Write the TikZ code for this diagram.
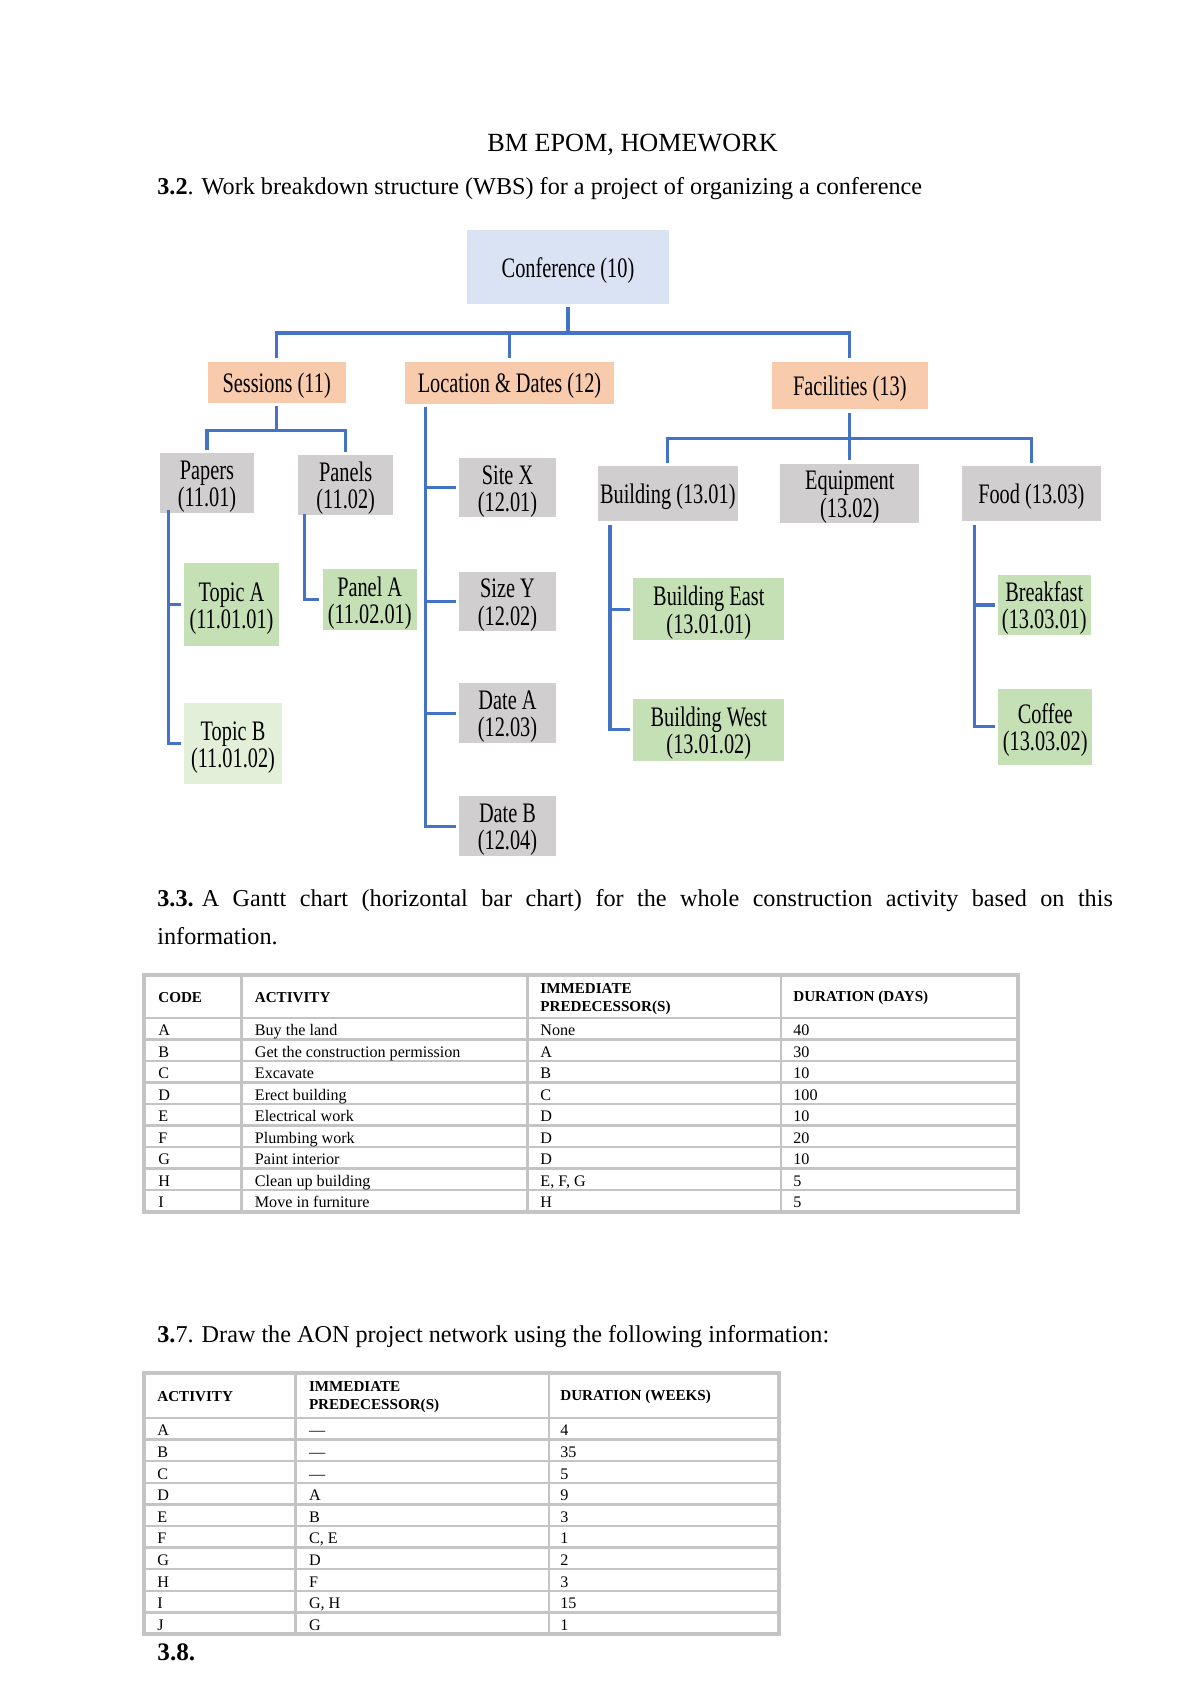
\documentclass[tikz,border=0pt]{standalone}
\usepackage{fontspec}
\setmainfont{Liberation Serif}
\newfontfamily\boxfont[FakeStretch=0.72]{Liberation Serif}
\usetikzlibrary{positioning}
\definecolor{WBSBlue}{HTML}{4472C4}
\definecolor{WBSTop}{HTML}{DAE3F3}
\definecolor{WBSOrange}{HTML}{F8CBAD}
\definecolor{WBSGray}{HTML}{D0CECE}
\definecolor{WBSGreen}{HTML}{C5E0B4}
\definecolor{WBSPale}{HTML}{E2F0D9}
\definecolor{TabRule}{HTML}{C4C4C4}
\newcommand\pxu{0.4961pt}
\newcommand\wbsstrut{\rule{0pt}{13pt}}

\begin{document}
\begin{tikzpicture}[
    x=0.4961pt,y=-0.4961pt,font=\fontsize{12}{14.4}\selectfont,
    wbs/.style={font=\boxfont\fontsize{14}{13.5}\selectfont,align=center,inner sep=0pt},
    sz/.style 2 args={minimum width=#1*\pxu,minimum height=#2*\pxu},
    wbsroot/.style={wbs,fill=WBSTop},
    wbsphase/.style={wbs,fill=WBSOrange},
    wbsgroup/.style={wbs,fill=WBSGray},
    wbstask/.style={wbs,fill=WBSGreen},
    wbspale/.style={wbs,fill=WBSPale},
    link/.style={draw=WBSBlue,line width=1.5pt},
    tip/.style={link,shorten >=1.5pt},
    para/.style={anchor=west,inner sep=0pt},
    cell/.style={anchor=west,inner sep=0pt,text height=5.5pt,text depth=1.5pt,
      font=\fontsize{8}{9}\selectfont},
    headcell/.style={anchor=west,inner sep=0pt,align=left,
      font=\bfseries\fontsize{7.5}{8.6}\selectfont},
    tabrule/.style={draw=TabRule,line width=1.2pt},
    tabframe/.style={draw=TabRule,line width=2pt}
  ]
    \fill[white] (0,0) rectangle (1200,1698);

    % headings
    \node[anchor=center,inner sep=0pt,font=\fontsize{13}{15}\selectfont] (title) at (632.5,145) {BM EPOM, HOMEWORK};
    \node[para] (s32) at (157,189) {\textbf{3.2}. Work breakdown structure (WBS) for a project of organizing a conference};

    % WBS boxes
    \node[wbsroot,sz={202}{74}] (conf) at (568,267) {\wbsstrut Conference (10)};
    \node[wbsphase,sz={138}{41}] (sess) at (276.7,382) {\wbsstrut Sessions (11)};
    \node[wbsphase,sz={209}{42}] (loc) at (509.5,382.5) {\wbsstrut Location \& Dates (12)};
    \node[wbsphase,sz={156.5}{47.6}] (fac) at (849.8,385.5) {\wbsstrut Facilities (13)};
    \node[wbsgroup,sz={94}{48}] (papers) at (207,483) {\wbsstrut Papers\\(11.01)};
    \node[wbsgroup,sz={95}{52}] (panels) at (345.7,485) {\wbsstrut Panels\\(11.02)};
    \node[wbsgroup,sz={97}{55}] (sitex) at (507.5,487.7) {\wbsstrut Site X\\(12.01)};
    \node[wbsgroup,sz={97}{55}] (sizey) at (507.5,601.3) {\wbsstrut Size Y\\(12.02)};
    \node[wbsgroup,sz={97}{55}] (datea) at (507.5,713.2) {\wbsstrut Date A\\(12.03)};
    \node[wbsgroup,sz={97}{54}] (dateb) at (507.5,826.2) {\wbsstrut Date B\\(12.04)};
    \node[wbstask,sz={94.4}{82.7}] (topa) at (231.5,604.7) {\wbsstrut Topic A\\(11.01.01)};
    \node[wbspale,sz={97.4}{81}] (topb) at (233,743.5) {\wbsstrut Topic B\\(11.01.02)};
    \node[wbstask,sz={94}{61}] (panela) at (369.7,599.8) {\wbsstrut Panel A\\(11.02.01)};
    \node[wbsgroup,sz={140}{55}] (bldg) at (667.8,493.5) {\wbsstrut Building (13.01)};
    \node[wbsgroup,sz={139}{55}] (equip) at (849.8,493.5) {\wbsstrut Equipment\\(13.02)};
    \node[wbsgroup,sz={139.5}{55}] (food) at (1031.3,493.5) {\wbsstrut Food (13.03)};
    \node[wbstask,sz={151}{62}] (beast) at (708.8,609.3) {\wbsstrut Building East\\(13.01.01)};
    \node[wbstask,sz={151}{62}] (bwest) at (708.8,729.7) {\wbsstrut Building West\\(13.01.02)};
    \node[wbstask,sz={92.7}{53.4}] (brkf) at (1044.3,605) {\wbsstrut Breakfast\\(13.03.01)};
    \node[wbstask,sz={94.4}{76.3}] (coffee) at (1045.2,726.8) {\wbsstrut Coffee\\(13.03.02)};

    % WBS connectors
    \coordinate (cbus) at (568,333);
    \coordinate (sbus) at (276.7,430.7);
    \coordinate (fbus) at (849.8,438.3);
    \coordinate (lspine) at (425.3,406.7);
    \coordinate (pspine) at (168.3,510);
    \coordinate (nspine) at (304.7,514);
    \coordinate (bspine) at (610,525);
    \coordinate (dspine) at (974.6,525);
    \draw[link,shorten <=1.5pt] (conf) -- (cbus);
    \foreach \n in {sess,loc,fac} \draw[tip] (cbus) -| (\n.north);
    \draw[link,shorten <=1.5pt] (sess) -- (sbus);
    \foreach \n in {papers,panels} \draw[tip] (sbus) -| (\n.north);
    \draw[link,shorten <=1.5pt] (fac) -- (fbus);
    \foreach \n in {bldg,equip,food} \draw[tip] (fbus) -| (\n.north);
    \foreach \n in {sitex,sizey,datea,dateb} \draw[tip] (lspine) |- (\n.west);
    \foreach \n in {topa,topb} \draw[tip] (pspine) |- (\n.west);
    \draw[tip] (nspine) |- (panela.west);
    \foreach \n in {beast,bwest} \draw[tip] (bspine) |- (\n.west);
    \foreach \n in {brkf,coffee} \draw[tip] (dspine) |- (\n.west);

    % 3.3
    \node[anchor=north west,inner sep=0pt,text width=474pt,align=justify,
      font=\fontsize{12}{19}\selectfont] (s33) at (157,889)
      {\textbf{3.3.}\hspace{4pt}A Gantt chart (horizontal bar chart) for the whole construction activity based on this\linebreak information.};

    \draw[tabframe] (144,975) rectangle (1018,1212);
    \foreach \k in {0,...,8} \draw[tabrule] (144,{1018+\k*21.5}) -- (1018,{1018+\k*21.5});
    \foreach \x in {241.5,527.4,781} \draw[tabrule] (\x,975) -- (\x,1212);
    \node[headcell] (codeh) at (158,998) {CODE};
    \node[headcell] (acth) at (254.5,998) {ACTIVITY};
    \node[headcell] (predh) at (540,999) {IMMEDIATE\\PREDECESSOR(S)};
    \node[headcell] (durh) at (793,998) {DURATION (DAYS)};
    \foreach \code/\act/\pred/\dur [count=\r] in {A/Buy the land/None/40,
        B/Get the construction permission/A/30, C/Excavate/B/10,
        D/Erect building/C/100, E/Electrical work/D/10, F/Plumbing work/D/20,
        G/Paint interior/D/10, H/Clean up building/{E, F, G}/5,
        I/Move in furniture/H/5}{
      \node[cell] (code-\r) at (158,{1021+(\r-0.5)*21.5}) {\code};
      \node[cell] (act-\r) at (254.5,{1021+(\r-0.5)*21.5}) {\act};
      \node[cell] (pred-\r) at (540,{1021+(\r-0.5)*21.5}) {\pred};
      \node[cell] (dur-\r) at (793,{1021+(\r-0.5)*21.5}) {\dur};
    }

    % 3.7
    \node[para] (s37) at (157,1337) {\textbf{3.}7. Draw the AON project network using the following information:};

    \draw[tabframe] (144,1373) rectangle (779,1634);
    \foreach \k in {0,...,9} \draw[tabrule] (144,{1418+\k*21.6}) -- (779,{1418+\k*21.6});
    \foreach \x in {295.7,549} \draw[tabrule] (\x,1373) -- (\x,1634);
    \node[headcell] (acth2) at (157,1397) {ACTIVITY};
    \node[headcell] (predh2) at (308.6,1397) {IMMEDIATE\\PREDECESSOR(S)};
    \node[headcell] (durh2) at (560,1397) {DURATION (WEEKS)};
    \foreach \act/\pred/\dur [count=\r] in {A/---/4, B/---/35, C/---/5, D/A/9,
        E/B/3, F/{C, E}/1, G/D/2, H/F/3, I/{G, H}/15, J/G/1}{
      \node[cell] (act2-\r) at (157,{1421+(\r-0.5)*21.6}) {\act};
      \node[cell] (pred2-\r) at (308.6,{1421+(\r-0.5)*21.6}) {\pred};
      \node[cell] (dur2-\r) at (560,{1421+(\r-0.5)*21.6}) {\dur};
    }

    \node[para,font=\bfseries\fontsize{12.5}{14}\selectfont] (s38) at (157,1652) {3.8.};
  \end{tikzpicture}
\end{document}
